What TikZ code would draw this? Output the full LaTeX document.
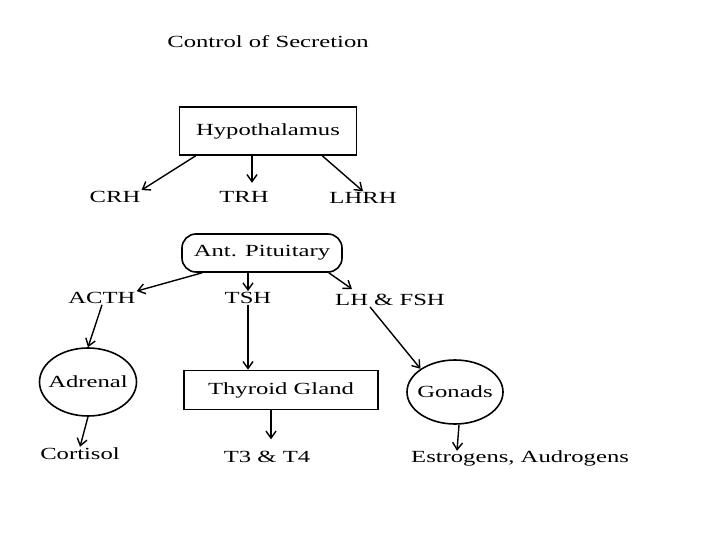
\documentclass[tikz,border=0pt]{standalone}
\usepackage{fontspec}
\setmainfont{Liberation Serif}[FakeStretch=1.45]
\usetikzlibrary{arrows.meta,shapes.geometric}
\begin{document}
\begin{tikzpicture}[x=1pt,y=-1pt,
  lbl/.style={font=\fontsize{17}{19}\selectfont, inner sep=1pt},
  box/.style={draw, line width=1.6pt, font=\fontsize{17}{19}\selectfont},
  circ/.style={box, ellipse, inner xsep=-10pt, inner ysep=0pt},
  arr/.style={line width=1.4pt, -{Straight Barb[length=7pt,width=10pt]}}]
\useasboundingbox (0,0) rectangle (720,540);
\node[lbl] (title) at (268,42) {Control of Secretion};
\node[box, minimum width=177pt, minimum height=48pt] (hyp) at (268,131) {Hypothalamus};
\node[lbl] (crh) at (115,197) {CRH};
\node[lbl] (trh) at (244,197) {TRH};
\node[lbl] (lhrh) at (363,198) {LHRH};
\node[box, rounded corners=14pt, minimum width=160pt, minimum height=38pt] (ap) at (262,253) {Ant. Pituitary};
\node[lbl] (acth) at (102,298) {ACTH};
\node[lbl] (tsh) at (248,298) {TSH};
\node[lbl] (lh) at (390,300) {LH \& FSH};
\node[circ, minimum width=97pt, minimum height=68pt] (adr) at (88,382) {Adrenal};
\node[box, minimum width=194pt, minimum height=39pt] (thy) at (281,390) {Thyroid Gland};
\node[circ, minimum width=96pt, minimum height=64pt] (gon) at (455,392) {Gonads};
\node[lbl] (cort) at (80,454) {Cortisol};
\node[lbl] (t34) at (267,457) {T3 \& T4};
\node[lbl, anchor=west] (est) at (410,458) {Estrogens, Audrogens};
\coordinate (lhtop) at (352,289);
\draw[arr] (hyp.south west)++(17,0) -- (crh.north east);
\draw[arr] (hyp.south -| trh) ++(8,0) -- ++(0,27);
\draw[arr] (hyp.south east)++(-35,0) -- (lhrh.north);
\draw[arr] (ap.south west)++(21,0) -- (acth.north east);
\draw[arr] (ap.south -| tsh) -- (tsh.north);
\draw[arr] (ap.south east)++(-14,0) -- (lhtop);
\draw[arr] (acth.south) -- (adr.north);
\draw[arr] (tsh.south) -- (thy.north -| tsh);
\draw[arr] (lh.south) ++(-20,0) -- (gon.north west);
\draw[arr] (adr.south) -- (cort.north);
\draw[arr] (thy.south -| t34) ++(4,0) -- ++(0,29);
\draw[arr] (gon.south) ++(4,0) -- ++(-2,26);
\end{tikzpicture}
\end{document}
